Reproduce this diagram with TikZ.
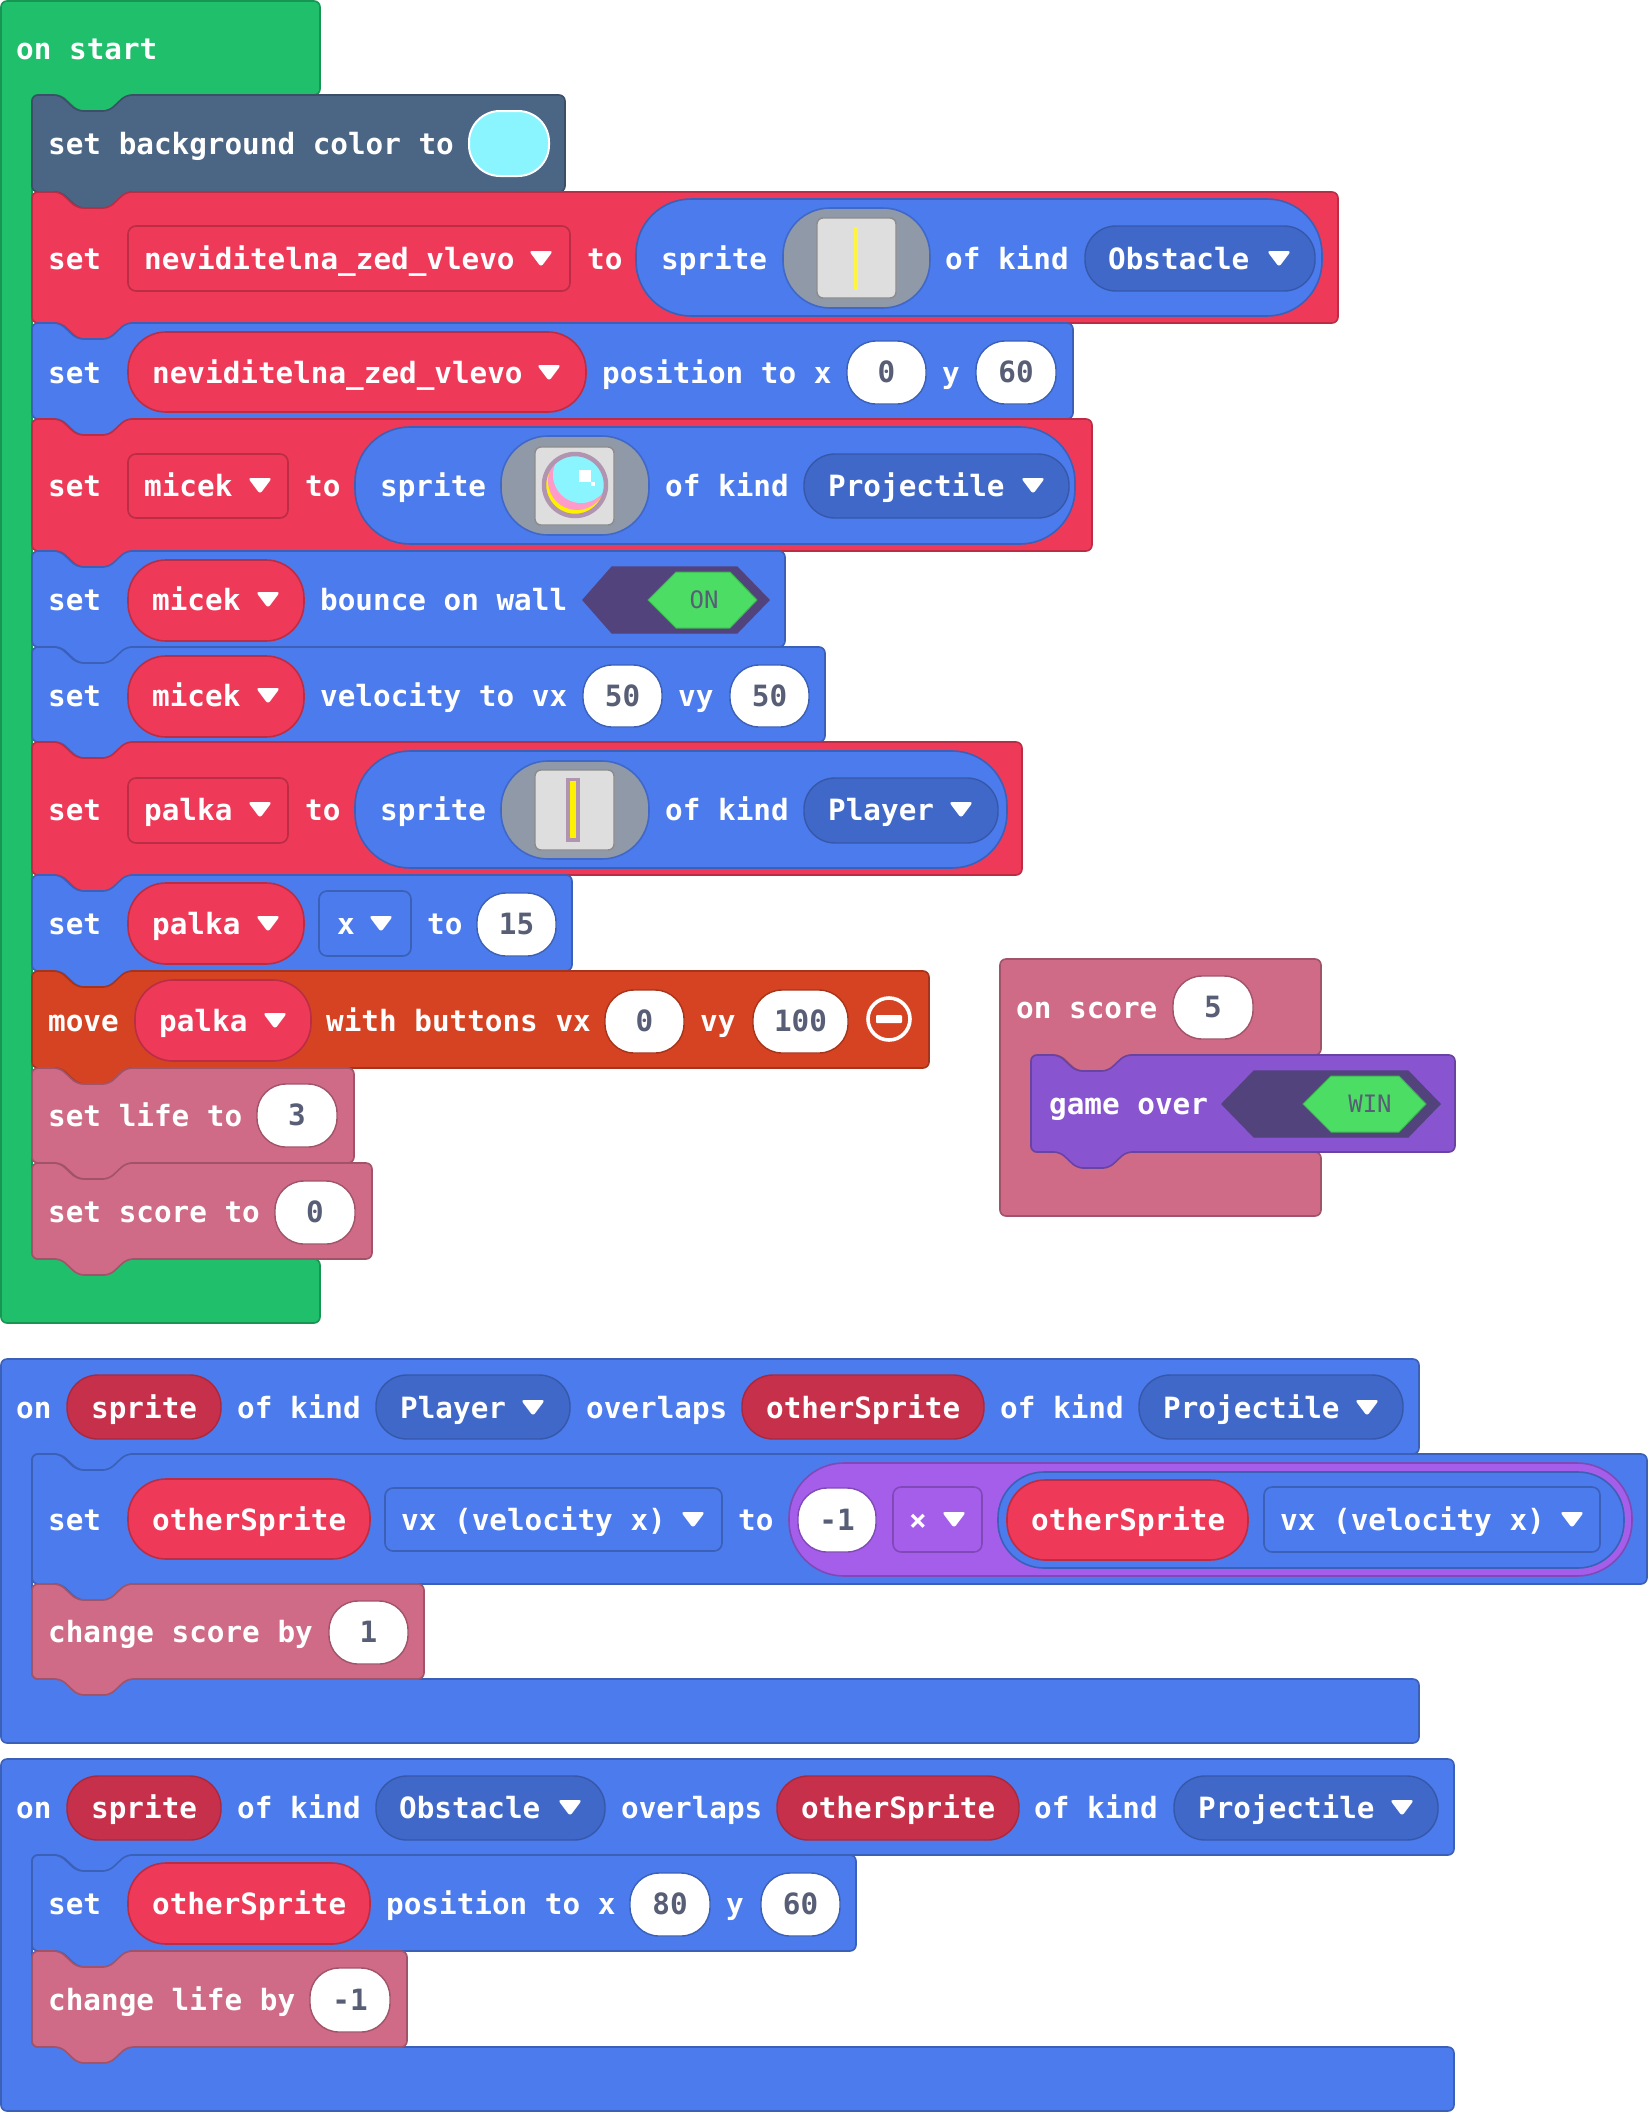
\documentclass[tikz,border=0pt]{standalone}
\usepackage{fontspec}
\usepackage{xcolor}
\usepackage{tikz}
\newfontfamily\blockfont{DejaVu Sans Mono}
\definecolor{mkgreen}{HTML}{20BF6B}
\definecolor{mkslate}{HTML}{4B6584}
\definecolor{mkred}{HTML}{EE3A58}
\definecolor{mkblue}{HTML}{4B7BEC}
\definecolor{mkorange}{HTML}{D54322}
\definecolor{mkpink}{HTML}{CF6A87}
\definecolor{mkpurple}{HTML}{8854D0}
\definecolor{mkmath}{HTML}{A55EEA}
\definecolor{mkdarkred}{HTML}{C6304A}
\definecolor{mkdarkblue}{HTML}{3F68C8}
\definecolor{mktoggle}{HTML}{53437D}
\definecolor{mkon}{HTML}{4CDE64}
\definecolor{mkink}{HTML}{575E75}
\definecolor{mkgrey}{HTML}{8F99A8}
\definecolor{mksky}{HTML}{8BF5FF}
\definecolor{mkrim}{HTML}{B195B0}
\definecolor{mkrose}{HTML}{FF9BC8}
\tikzset{
  x=1pt, y=-1pt,
  blk/.style={fill=#1, draw=#1!78!black, line width=1.6pt, rounded corners=6pt},
  lbl/.style={anchor=west, inner sep=0pt, text=white, text height=24pt, text depth=3.4pt,
    font=\blockfont\bfseries\fontsize{29.3}{34}\selectfont},
  numpill/.style={fill=white, draw=#1!78!black, line width=1.4pt, rounded corners=29pt},
  numtxt/.style={lbl, anchor=center, text=mkink},
  varpill/.style={fill=#1, draw=#1!78!black, line width=1.6pt, rounded corners=38pt},
  kindpill/.style={fill=mkdarkblue, draw=mkdarkblue!85!black, line width=1.4pt, rounded corners=31pt},
  darkpill/.style={fill=mkdarkred, draw=mkdarkred!85!black, line width=1.4pt, rounded corners=31pt},
  fieldbox/.style={fill=#1, draw=#1!78!black, line width=1.6pt, rounded corners=8pt},
  wrappill/.style={fill=#1, draw=#1!78!black, line width=1.6pt, rounded corners=55pt},
  imgpill/.style={fill=mkgrey, draw=mkdarkblue, line width=1.6pt, rounded corners=47pt},
  imgbox/.style={fill=black!13, draw=black!45, line width=1.4pt, rounded corners=6pt},
  togglebg/.style={fill=mktoggle, draw=mktoggle, line width=1.4pt},
  toggleon/.style={fill=mkon, draw=mkon!80!black, line width=1pt},
  togtxt/.style={anchor=center, inner sep=0pt, text=mkink, font=\blockfont\fontsize{24}{28}\selectfont},
}
% block with notch on top and tab below: colour, x1, y1, x2, y2
\newcommand{\stmt}[5]{
  \draw[blk=#1] (#2,#3) -- ++(28,0) -- ++(17,16) -- ++(32,0) -- ++(17,-16) -- (#4,#3)
    -- (#4,#5) -- (#2+95,#5) -- ++(-17,16) -- ++(-32,0) -- ++(-17,-16) -- (#2,#5) -- cycle;
}
% event block: colour, x1, y1, x2, y of header end, x of inner edge, y of foot top, y2
\newcommand{\hatblk}[8]{
  \draw[blk=#1] (#2,#3) -- (#4,#3) -- (#4,#5) -- (#6+95,#5) -- ++(-17,16) -- ++(-32,0)
    -- ++(-17,-16) -- (#6,#5) -- (#6,#7) -- (#4,#7) -- (#4,#8) -- (#2,#8) -- cycle;
}
% small dropdown triangle
\newcommand{\ddtip}[2]{
  \fill[white, rounded corners=3pt] (#1-12,#2-7) -- (#1+12,#2-7) -- (#1,#2+9) -- cycle;
}
\begin{document}
\begin{tikzpicture}
\useasboundingbox (0,0) rectangle (1648,2112);

% on start
\hatblk{mkgreen}{1}{1}{320}{95}{32}{1259}{1323}
\node [lbl] (start-txt) at (16,49) {on start};

\stmt{mkslate}{32}{95}{565}{192}
\node [lbl] (bg-set) at (48,144) {set background color to};
\draw [fill=mksky, draw=white, line width=2pt, rounded corners=31pt] (469,111) rectangle (549,176);

\stmt{mkred}{32}{192}{1338}{323}
\node [lbl] (zed-set) at (48,259) {set};
\draw [fieldbox=mkred] (128,226) rectangle (570,291);
\node [lbl] (zed-var) at (144,259) {neviditelna\_zed\_vlevo};
\ddtip{541}{258}
\node [lbl] (zed-to) at (587,259) {to};
\draw [wrappill=mkblue] (636,199) rectangle (1322,316);
\node [lbl] (zed-sprite) at (661,259) {sprite};
\draw [imgpill] (783,208) rectangle (930,308);
\draw [imgbox] (817,218) rectangle (896,298);
\fill [yellow!75!white] (854,227) rectangle (858,290);
\node [lbl] (zed-kind) at (945,259) {of kind};
\draw [kindpill] (1085,226) rectangle (1315,291);
\node [lbl] (zed-kindval) at (1108,259) {Obstacle};
\ddtip{1279}{258}

\stmt{mkblue}{32}{323}{1073}{419}
\node [lbl] (zedpos-set) at (48,373) {set};
\draw [varpill=mkred] (128,332) rectangle (586,412);
\node [lbl] (zedpos-var) at (152,373) {neviditelna\_zed\_vlevo};
\ddtip{549}{372}
\node [lbl] (zedpos-txt) at (602,373) {position to x};
\draw [numpill=mkblue] (847,341) rectangle node [numtxt] (zedpos-x) {0} (926,404);
\node [lbl] (zedpos-y) at (942,373) {y};
\draw [numpill=mkblue] (976,341) rectangle node [numtxt] (zedpos-yval) {60} (1056,404);

\stmt{mkred}{32}{419}{1092}{551}
\node [lbl] (mic-set) at (48,486) {set};
\draw [fieldbox=mkred] (128,454) rectangle (288,518);
\node [lbl] (mic-var) at (144,486) {micek};
\ddtip{260}{485}
\node [lbl] (mic-to) at (305,486) {to};
\draw [wrappill=mkblue] (355,427) rectangle (1075,544);
\node [lbl] (mic-sprite) at (380,486) {sprite};
\draw [imgpill] (501,436) rectangle (649,535);
\draw [imgbox] (535,447) rectangle (614,525);
% ball
\fill [yellow] (575,485) circle (30);
\begin{scope}
  \clip (575,485) circle (30);
  \fill [mkrose] (577,481) circle (29);
  \fill [mksky] (581,475) circle (28);
\end{scope}
\draw [mkrim, line width=4.5pt] (575,485) circle (31);
\fill [white] (579,470) rectangle (591,482);
\fill [white] (591,482) rectangle (595,486);
\node [lbl] (mic-kind) at (665,486) {of kind};
\draw [kindpill] (804,454) rectangle (1069,518);
\node [lbl] (mic-kindval) at (828,486) {Projectile};
\ddtip{1033}{485}

\stmt{mkblue}{32}{551}{785}{647}
\node [lbl] (wall-set) at (48,600) {set};
\draw [varpill=mkred] (128,560) rectangle (304,641);
\node [lbl] (wall-var) at (152,600) {micek};
\ddtip{268}{599}
\node [lbl] (wall-txt) at (320,600) {bounce on wall};
\draw [togglebg] (583,600) -- (612,567) -- (737,567) -- (769,600) -- (737,633) -- (612,633) -- cycle;
\draw [toggleon] (648,600) -- (676,572) -- (730,572) -- (757,600) -- (730,628) -- (676,628) -- cycle;
\node [togtxt] (wall-on) at (704,600) {ON};

\stmt{mkblue}{32}{647}{825}{742}
\node [lbl] (vel-set) at (48,696) {set};
\draw [varpill=mkred] (128,656) rectangle (304,737);
\node [lbl] (vel-var) at (152,696) {micek};
\ddtip{268}{695}
\node [lbl] (vel-txt) at (320,696) {velocity to vx};
\draw [numpill=mkblue] (583,665) rectangle node [numtxt] (vel-x) {50} (662,727);
\node [lbl] (vel-vy) at (678,696) {vy};
\draw [numpill=mkblue] (730,665) rectangle node [numtxt] (vel-y) {50} (809,727);

\stmt{mkred}{32}{742}{1022}{875}
\node [lbl] (pal-set) at (48,810) {set};
\draw [fieldbox=mkred] (128,778) rectangle (288,843);
\node [lbl] (pal-var) at (144,810) {palka};
\ddtip{260}{809}
\node [lbl] (pal-to) at (305,810) {to};
\draw [wrappill=mkblue] (355,751) rectangle (1007,868);
\node [lbl] (pal-sprite) at (380,810) {sprite};
\draw [imgpill] (501,761) rectangle (649,859);
\draw [imgbox] (535,770) rectangle (614,850);
\fill [mkrim] (566,778) rectangle (580,842);
\fill [yellow] (570,781) rectangle (576,838);
\node [lbl] (pal-kind) at (665,810) {of kind};
\draw [kindpill] (804,778) rectangle (998,843);
\node [lbl] (pal-kindval) at (828,810) {Player};
\ddtip{961}{809}

\stmt{mkblue}{32}{875}{572}{971}
\node [lbl] (palx-set) at (48,924) {set};
\draw [varpill=mkred] (128,883) rectangle (304,964);
\node [lbl] (palx-var) at (152,924) {palka};
\ddtip{268}{923}
\draw [fieldbox=mkblue] (319,891) rectangle (411,956);
\node [lbl] (palx-prop) at (337,924) {x};
\ddtip{381}{923}
\node [lbl] (palx-to) at (427,924) {to};
\draw [numpill=mkblue] (477,893) rectangle node [numtxt] (palx-val) {15} (556,956);

\stmt{mkorange}{32}{971}{929}{1068}
\node [lbl] (move-txt) at (48,1021) {move};
\draw [varpill=mkred] (135,980) rectangle (311,1061);
\node [lbl] (move-var) at (159,1021) {palka};
\ddtip{275}{1020}
\node [lbl] (move-with) at (326,1021) {with buttons vx};
\draw [numpill=mkorange] (605,990) rectangle node [numtxt] (move-vx) {0} (684,1053);
\node [lbl] (move-vy) at (700,1021) {vy};
\draw [numpill=mkorange] (753,990) rectangle node [numtxt] (move-vyval) {100} (848,1053);
\draw [white, line width=3.6pt] (889,1019) circle (21);
\fill [white, rounded corners=1pt] (876,1015) rectangle (902,1023);

\stmt{mkpink}{32}{1068}{354}{1163}
\node [lbl] (life-txt) at (48,1116) {set life to};
\draw [numpill=mkpink] (257,1084) rectangle node [numtxt] (life-val) {3} (337,1147);

\stmt{mkpink}{32}{1163}{372}{1259}
\node [lbl] (score-txt) at (48,1212) {set score to};
\draw [numpill=mkpink] (275,1181) rectangle node [numtxt] (score-val) {0} (355,1244);

% on score
\hatblk{mkpink}{1000}{959}{1321}{1055}{1031}{1152}{1216}
\node [lbl] (onscore-txt) at (1016,1008) {on score};
\draw [numpill=mkpink] (1173,976) rectangle node [numtxt] (onscore-val) {5} (1253,1039);

\stmt{mkpurple}{1031}{1055}{1455}{1152}
\node [lbl] (over-txt) at (1049,1104) {game over};
\draw [togglebg] (1222,1104) -- (1254,1071) -- (1408,1071) -- (1440,1104) -- (1408,1137) -- (1254,1137) -- cycle;
\draw [toggleon] (1303,1104) -- (1331,1076) -- (1399,1076) -- (1426,1104) -- (1399,1132) -- (1331,1132) -- cycle;
\node [togtxt] (over-win) at (1370,1104) {WIN};

% player overlaps projectile
\hatblk{mkblue}{1}{1359}{1419}{1454}{32}{1679}{1743}
\node [lbl] (hit-on) at (16,1408) {on};
\draw [darkpill] (67,1375) rectangle (221,1439);
\node [lbl] (hit-sprite) at (91,1408) {sprite};
\node [lbl] (hit-kind) at (237,1408) {of kind};
\draw [kindpill] (376,1375) rectangle (570,1439);
\node [lbl] (hit-player) at (400,1408) {Player};
\ddtip{533}{1407}
\node [lbl] (hit-over) at (586,1408) {overlaps};
\draw [darkpill] (742,1375) rectangle (984,1439);
\node [lbl] (hit-other) at (766,1408) {otherSprite};
\node [lbl] (hit-kindb) at (1000,1408) {of kind};
\draw [kindpill] (1139,1375) rectangle (1403,1439);
\node [lbl] (hit-proj) at (1163,1408) {Projectile};
\ddtip{1367}{1407}

\stmt{mkblue}{32}{1454}{1647}{1584}
\node [lbl] (vx-set) at (48,1520) {set};
\draw [varpill=mkred] (128,1479) rectangle (370,1559);
\node [lbl] (vx-var) at (152,1520) {otherSprite};
\draw [fieldbox=mkblue] (385,1488) rectangle (722,1551);
\node [lbl] (vx-prop) at (401,1520) {vx (velocity x)};
\ddtip{693}{1519}
\node [lbl] (vx-to) at (738,1520) {to};
\draw [wrappill=mkmath] (789,1463) rectangle (1632,1576);
\draw [numpill=mkmath] (798,1488) rectangle node [numtxt] (vx-minus) {-1} (876,1552);
\draw [fieldbox=mkmath] (893,1487) rectangle (982,1552);
\node [lbl] (vx-times) at (909,1520) {×};
\ddtip{954}{1519}
\draw [wrappill=mkblue, rounded corners=46pt] (998,1472) rectangle (1624,1568);
\draw [varpill=mkred] (1007,1480) rectangle (1248,1560);
\node [lbl] (vx-varb) at (1031,1520) {otherSprite};
\draw [fieldbox=mkblue] (1264,1487) rectangle (1600,1552);
\node [lbl] (vx-propb) at (1280,1520) {vx (velocity x)};
\ddtip{1572}{1519}

\stmt{mkpink}{32}{1584}{424}{1679}
\node [lbl] (chs-txt) at (48,1632) {change score by};
\draw [numpill=mkpink] (329,1601) rectangle node [numtxt] (chs-val) {1} (408,1664);

% obstacle overlaps projectile
\hatblk{mkblue}{1}{1759}{1454}{1855}{32}{2047}{2111}
\node [lbl] (miss-on) at (16,1808) {on};
\draw [darkpill] (67,1776) rectangle (221,1840);
\node [lbl] (miss-sprite) at (91,1808) {sprite};
\node [lbl] (miss-kind) at (237,1808) {of kind};
\draw [kindpill] (376,1776) rectangle (605,1840);
\node [lbl] (miss-obst) at (399,1808) {Obstacle};
\ddtip{570}{1807}
\node [lbl] (miss-over) at (621,1808) {overlaps};
\draw [darkpill] (777,1776) rectangle (1019,1840);
\node [lbl] (miss-other) at (801,1808) {otherSprite};
\node [lbl] (miss-kindb) at (1034,1808) {of kind};
\draw [kindpill] (1174,1776) rectangle (1438,1840);
\node [lbl] (miss-proj) at (1198,1808) {Projectile};
\ddtip{1402}{1807}

\stmt{mkblue}{32}{1855}{856}{1951}
\node [lbl] (pos-set) at (48,1904) {set};
\draw [varpill=mkred] (128,1863) rectangle (370,1944);
\node [lbl] (pos-var) at (152,1904) {otherSprite};
\node [lbl] (pos-txt) at (386,1904) {position to x};
\draw [numpill=mkblue] (630,1873) rectangle node [numtxt] (pos-x) {80} (710,1936);
\node [lbl] (pos-y) at (726,1904) {y};
\draw [numpill=mkblue] (761,1873) rectangle node [numtxt] (pos-yval) {60} (840,1936);

\stmt{mkpink}{32}{1951}{407}{2047}
\node [lbl] (chl-txt) at (48,2000) {change life by};
\draw [numpill=mkpink] (310,1968) rectangle node [numtxt] (chl-val) {-1} (390,2032);
\end{tikzpicture}
\end{document}
